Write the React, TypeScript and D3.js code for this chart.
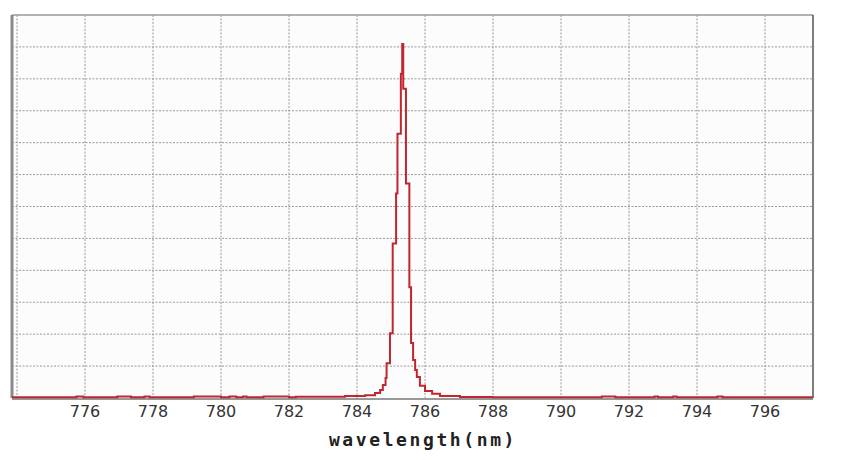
import React, { useRef, useEffect } from "react";
import * as d3 from "d3";

// spectrum (wavelength in nm, intensity in grid units)
const wavelengths = [
  773.85, 775.75, 775.95, 776.95, 777.35, 777.75, 777.9, 779.2, 780.0, 780.25, 780.45,
  780.65, 780.75, 781.25, 782.0, 782.2, 783.65, 784.24, 784.53, 784.68, 784.76, 784.84,
  784.87, 784.97, 785.05, 785.15, 785.19, 785.29, 785.33, 785.36, 785.44, 785.54, 785.59,
  785.65, 785.71, 785.76, 785.85, 786.0, 786.21, 786.44, 787.03, 788.0, 791.2, 791.6,
  792.75, 792.85, 793.3, 793.4, 794.6, 794.75, 797.41,
];
const intensities = [
  0.02, 0.05, 0.02, 0.05, 0.02, 0.05, 0.02, 0.05, 0.02, 0.05, 0.02,
  0.05, 0.02, 0.05, 0.02, 0.04, 0.06, 0.09, 0.16, 0.25, 0.41, 0.63,
  1.09, 2.03, 4.84, 6.41, 8.28, 10.16, 11.09, 9.69, 6.72, 3.47, 1.72,
  1.19, 0.88, 0.66, 0.38, 0.22, 0.13, 0.06, 0.03, 0.02, 0.05, 0.02,
  0.05, 0.02, 0.05, 0.02, 0.05, 0.02, 0.02,
];
const gridX = [774, 776, 778, 780, 782, 784, 786, 788, 790, 792, 794, 796];
const tickLabels = ["776", "778", "780", "782", "784", "786", "788", "790", "792", "794", "796"];
const gridY = [1, 2, 3, 4, 5, 6, 7, 8, 9, 10, 11];

const SpectrumChart = () => {
  const node: any = useRef();

  useEffect(() => {
    const width = 860,
      height = 460;
    const margin = { top: 15, right: 47, bottom: 62, left: 12 };

    const svg = d3.select(node.current).attr("width", width).attr("height", height);
    svg.selectAll("*").remove();

    const x = d3
      .scaleLinear()
      .domain([773.853, 797.412])
      .range([margin.left, width - margin.right]);
    const y = d3
      .scaleLinear()
      .domain([0, 12])
      .range([height - margin.bottom, margin.top]);

    // plot background
    svg
      .append("rect")
      .attr("x", margin.left)
      .attr("y", margin.top)
      .attr("width", width - margin.left - margin.right)
      .attr("height", height - margin.top - margin.bottom)
      .attr("fill", "#fcfcfc");

    // dotted grid
    svg
      .append("g")
      .selectAll("line")
      .data(gridX)
      .enter()
      .append("line")
      .attr("x1", (d) => x(d))
      .attr("x2", (d) => x(d))
      .attr("y1", y(12))
      .attr("y2", y(0))
      .attr("stroke", "#9a9a9a")
      .attr("stroke-width", 1)
      .attr("stroke-dasharray", "2,1.5");
    svg
      .append("g")
      .selectAll("line")
      .data(gridY)
      .enter()
      .append("line")
      .attr("x1", x.range()[0])
      .attr("x2", x.range()[1])
      .attr("y1", (d) => y(d))
      .attr("y2", (d) => y(d))
      .attr("stroke", "#9a9a9a")
      .attr("stroke-width", 1)
      .attr("stroke-dasharray", "2,1.5");

    // frame
    svg
      .append("line")
      .attr("x1", x.range()[0])
      .attr("x2", x.range()[1])
      .attr("y1", y(12))
      .attr("y2", y(12))
      .attr("stroke", "#999")
      .attr("stroke-width", 1.5);
    svg
      .append("line")
      .attr("x1", x.range()[0])
      .attr("x2", x.range()[0])
      .attr("y1", y(12))
      .attr("y2", y(0))
      .attr("stroke", "#8a8a8a")
      .attr("stroke-width", 3);
    svg
      .append("line")
      .attr("x1", x.range()[1])
      .attr("x2", x.range()[1])
      .attr("y1", y(12))
      .attr("y2", y(0))
      .attr("stroke", "#555")
      .attr("stroke-width", 1.5);

    // spectrum
    const data = wavelengths.map((w, i) => [w, intensities[i]] as [number, number]);
    const line = d3
      .line<[number, number]>()
      .x((d) => x(d[0]))
      .y((d) => y(d[1]))
      .curve(d3.curveStepAfter);
    svg
      .append("path")
      .datum(data)
      .attr("d", line)
      .attr("fill", "none")
      .attr("stroke", "#c0262d")
      .attr("stroke-width", 2);

    // bottom axis line
    svg
      .append("line")
      .attr("x1", x.range()[0])
      .attr("x2", x.range()[1])
      .attr("y1", y(0) + 1)
      .attr("y2", y(0) + 1)
      .attr("stroke", "#333")
      .attr("stroke-width", 1);

    // tick labels
    svg
      .append("g")
      .selectAll("text")
      .data(tickLabels)
      .enter()
      .append("text")
      .attr("x", (d) => x(+d))
      .attr("y", y(0) + 19)
      .attr("text-anchor", "middle")
      .attr("font-family", "'DejaVu Sans', sans-serif")
      .attr("font-size", 16)
      .attr("fill", "#333")
      .text((d) => d);

    // axis title
    svg
      .append("text")
      .attr("x", 423)
      .attr("y", 446)
      .attr("text-anchor", "middle")
      .attr("font-family", "'DejaVu Sans Mono', monospace")
      .attr("font-size", 18)
      .attr("font-weight", "bold")
      .attr("letter-spacing", 2.6)
      .attr("fill", "#222")
      .text("wavelength(nm)");
  }, []);

  return <svg ref={node} style={{ position: "absolute", left: 0, top: 0 }}></svg>;
};

export default function App() {
  return <SpectrumChart />;
}
